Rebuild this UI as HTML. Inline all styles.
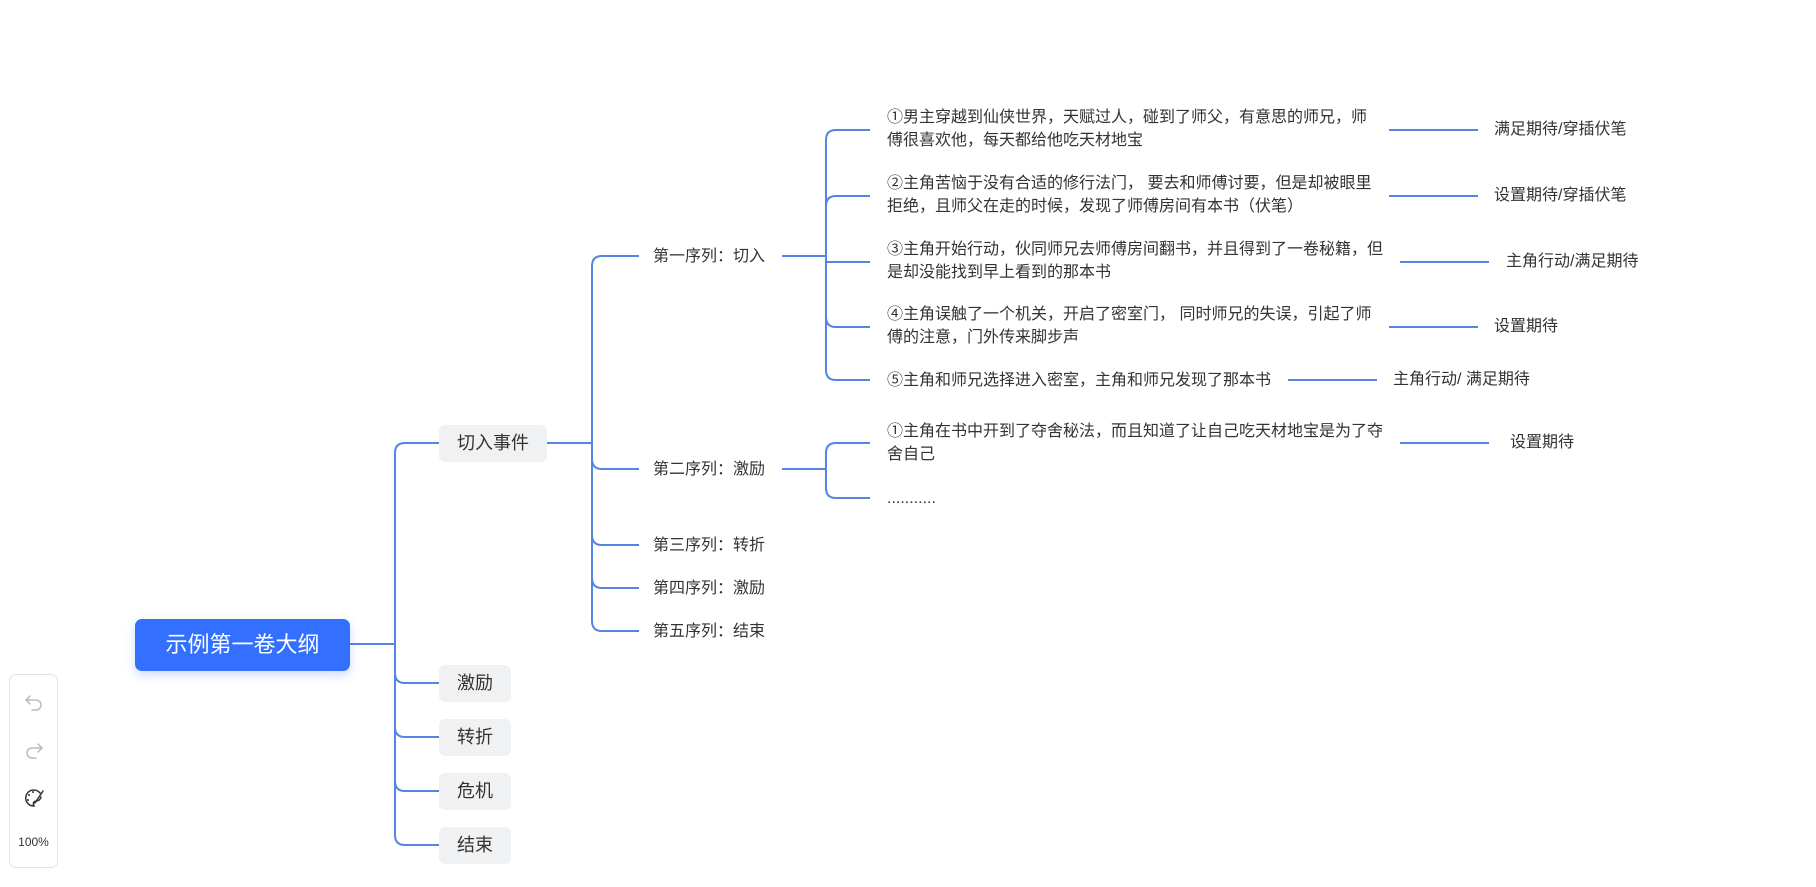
<!DOCTYPE html>
<html><head><meta charset="utf-8"><style>
html,body{margin:0;padding:0;background:#fff;width:1816px;height:887px;overflow:hidden;font-family:"Liberation Sans","Noto Sans CJK SC",sans-serif;}
.t{position:absolute;color:#333;font-size:16px;line-height:23px;white-space:nowrap;}
.n{position:absolute;background:#f0f1f3;border-radius:6px;color:#333;font-size:18px;text-align:center;line-height:37px;height:37px;}
#root{position:absolute;left:135px;top:619px;width:215px;height:52px;background:#3370ff;border-radius:7px;color:#fff;font-size:22px;line-height:52px;text-align:center;box-shadow:0 4px 10px rgba(51,112,255,0.25);}
#tb{position:absolute;left:9px;top:674px;width:47px;height:192px;border:1px solid #e3e3e3;border-radius:7px;background:#fff;}
</style></head><body>
<svg width="1816" height="887" style="position:absolute;left:0;top:0" fill="none" stroke="#5585e0" stroke-width="2">
<path d="M350 644 H395"/>
<path d="M395 644 V453 Q395 443 405 443 H439"/>
<path d="M395 644 V673 Q395 683 405 683 H439"/>
<path d="M395 644 V727 Q395 737 405 737 H439"/>
<path d="M395 644 V781 Q395 791 405 791 H439"/>
<path d="M395 644 V835 Q395 845 405 845 H439"/>
<path d="M547 443 H592"/>
<path d="M592 443 V266 Q592 256 602 256 H639"/>
<path d="M592 443 V459 Q592 469 602 469 H639"/>
<path d="M592 443 V535 Q592 545 602 545 H639"/>
<path d="M592 443 V578 Q592 588 602 588 H639"/>
<path d="M592 443 V621 Q592 631 602 631 H639"/>
<path d="M782 256 H826"/>
<path d="M826 256 V140 Q826 130 836 130 H870"/>
<path d="M826 256 V206 Q826 196 836 196 H870"/>
<path d="M826 256 V262 H870"/>
<path d="M826 256 V317 Q826 327 836 327 H870"/>
<path d="M826 256 V370 Q826 380 836 380 H870"/>
<path d="M782 469 H826"/>
<path d="M826 469 V453 Q826 443 836 443 H870"/>
<path d="M826 469 V488 Q826 498 836 498 H870"/>
<path d="M1389 130 H1478"/>
<path d="M1389 196 H1478"/>
<path d="M1400 262 H1489"/>
<path d="M1389 327 H1478"/>
<path d="M1288 380 H1377"/>
<path d="M1400 443 H1489"/>
</svg>
<div id="root">示例第一卷大纲</div>
<div class="n" style="left:439px;top:425px;width:108px">切入事件</div>
<div class="n" style="left:439px;top:665px;width:72px">激励</div>
<div class="n" style="left:439px;top:719px;width:72px">转折</div>
<div class="n" style="left:439px;top:773px;width:72px">危机</div>
<div class="n" style="left:439px;top:827px;width:72px">结束</div>
<div class="t" style="left:653px;top:245px">第一序列：切入</div>
<div class="t" style="left:653px;top:458px">第二序列：激励</div>
<div class="t" style="left:653px;top:534px">第三序列：转折</div>
<div class="t" style="left:653px;top:577px">第四序列：激励</div>
<div class="t" style="left:653px;top:620px">第五序列：结束</div>
<div class="t" style="left:887px;top:106px">①男主穿越到仙侠世界，天赋过人，碰到了师父，有意思的师兄，师<br>傅很喜欢他，每天都给他吃天材地宝</div>
<div class="t" style="left:887px;top:172px">②主角苦恼于没有合适的修行法门， 要去和师傅讨要，但是却被眼里<br>拒绝，且师父在走的时候，发现了师傅房间有本书（伏笔）</div>
<div class="t" style="left:887px;top:238px">③主角开始行动，伙同师兄去师傅房间翻书，并且得到了一卷秘籍，但<br>是却没能找到早上看到的那本书</div>
<div class="t" style="left:887px;top:303px">④主角误触了一个机关，开启了密室门， 同时师兄的失误，引起了师<br>傅的注意，门外传来脚步声</div>
<div class="t" style="left:887px;top:369px">⑤主角和师兄选择进入密室，主角和师兄发现了那本书</div>
<div class="t" style="left:887px;top:420px">①主角在书中开到了夺舍秘法，而且知道了让自己吃天材地宝是为了夺<br>舍自己</div>
<div class="t" style="left:887px;top:487px">...........</div>
<div class="t" style="left:1494px;top:118px">满足期待/穿插伏笔</div>
<div class="t" style="left:1494px;top:184px">设置期待/穿插伏笔</div>
<div class="t" style="left:1506px;top:250px">主角行动/满足期待</div>
<div class="t" style="left:1494px;top:315px">设置期待</div>
<div class="t" style="left:1393px;top:368px">主角行动/ 满足期待</div>
<div class="t" style="left:1510px;top:431px">设置期待</div>
<div id="tb">
<svg width="47" height="192" style="position:absolute;left:0;top:0" fill="none" stroke-width="1.5" stroke-linecap="round">
<path d="M20 22 L16 26 L20 30 M16 26 H26 A5 5 0 0 1 26 36 H22" stroke="#bbb" transform="translate(0,-1)"/>
<path d="M28 70 L32 74 L28 78 M32 74 H22 A5 5 0 0 0 22 84 H26" stroke="#bbb" transform="translate(0,-1)"/>
<path d="M30 118 A8 8 0 1 0 24 131 Q22 127 26 126 Q30 126 31 122 M25 128 L33 116" stroke="#333"/>
<circle cx="19" cy="120" r="1" fill="#333" stroke="none"/><circle cx="23" cy="117" r="1" fill="#333" stroke="none"/><circle cx="18" cy="125" r="1" fill="#333" stroke="none"/>
</svg>
<div style="position:absolute;left:0;top:160px;width:47px;text-align:center;font-size:12px;color:#333">100%</div>
</div>
</body></html>
